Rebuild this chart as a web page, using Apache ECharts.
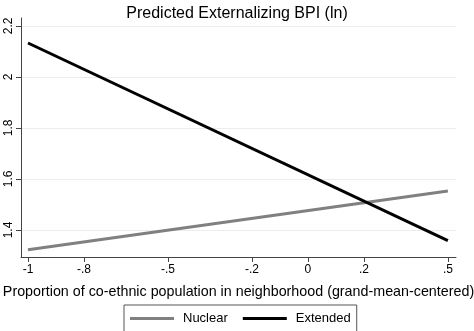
<!DOCTYPE html>
<html><head><meta charset="utf-8">
<script src="https://cdn.jsdelivr.net/npm/echarts@6/dist/echarts.min.js"></script>
<style>html,body{margin:0;padding:0;background:#fff}#c{width:474px;height:331px}</style>
</head><body><div id="c"></div>
<script>
const xValues = [-1, 0.5];
const nuclear = [1.322, 1.553];
const extended = [2.133, 1.358];
const xTicks = [-1, -0.8, -0.5, -0.2, 0, 0.2, 0.5];
const xTickLabels = ['-1', '-.8', '-.5', '-.2', '0', '.2', '.5'];
const yTicks = [1.4, 1.6, 1.8, 2, 2.2];
const yTickLabels = ['1.4', '1.6', '1.8', '2', '2.2'];

const chart = echarts.init(document.getElementById('c'));
const font = 'Liberation Sans, Arial, sans-serif';
chart.setOption({
  animation: false,
  backgroundColor: '#fff',
  title: {
    text: 'Predicted Externalizing BPI (ln)', left: 'center', top: 1,
    textStyle: {fontFamily: font, fontSize: 16, fontWeight: 'normal', color: '#000'}
  },
  grid: {left: 21, right: 18, top: 18, bottom: 74, containLabel: false, outerBoundsMode: 'none'},
  xAxis: {
    type: 'value', min: -1.025, max: 0.529,
    name: 'Proportion of co-ethnic population in neighborhood (grand-mean-centered)',
    nameLocation: 'middle', nameGap: 28,
    nameTextStyle: {fontFamily: font, fontSize: 14.3, color: '#000'},
    axisLine: {onZero: false, lineStyle: {color: '#444', width: 1}},
    axisTick: {show: true, length: 5, customValues: xTicks, lineStyle: {color: '#444'}},
    axisLabel: {customValues: xTicks, fontFamily: font, fontSize: 12, color: '#000', margin: 7,
      formatter: v => xTickLabels[xTicks.findIndex(t => Math.abs(t - v) < 1e-9)]},
    splitLine: {show: false}
  },
  yAxis: {
    type: 'value', min: 1.294, max: 2.231,
    axisLine: {show: true, onZero: false, lineStyle: {color: '#444', width: 1}},
    axisTick: {show: true, length: 5, customValues: yTicks, lineStyle: {color: '#444'}},
    axisLabel: {customValues: yTicks, rotate: 90, fontFamily: font, fontSize: 12, color: '#000', margin: 6,
      formatter: v => yTickLabels[yTicks.findIndex(t => Math.abs(t - v) < 1e-9)]},
    splitLine: {show: true, lineStyle: {color: '#ececec', width: 1}}
  },
  legend: {
    bottom: -6, left: 124, orient: 'horizontal',
    borderColor: '#555', borderWidth: 1, padding: [7, 6, 12, 6],
    itemWidth: 44, itemHeight: 3, itemGap: 15,
    textStyle: {fontFamily: font, fontSize: 13, color: '#000', padding: [0, 0, 0, 4]},
    data: [{name: 'Nuclear', icon: 'rect'}, {name: 'Extended', icon: 'rect'}]
  },
  series: [
    {name: 'Nuclear', type: 'line', showSymbol: false, symbol: 'none', color: '#808080',
      lineStyle: {color: '#808080', width: 3}, data: xValues.map((x, i) => [x, nuclear[i]])},
    {name: 'Extended', type: 'line', showSymbol: false, symbol: 'none', color: '#000',
      lineStyle: {color: '#000', width: 3}, data: xValues.map((x, i) => [x, extended[i]])}
  ]
});
</script></body></html>
